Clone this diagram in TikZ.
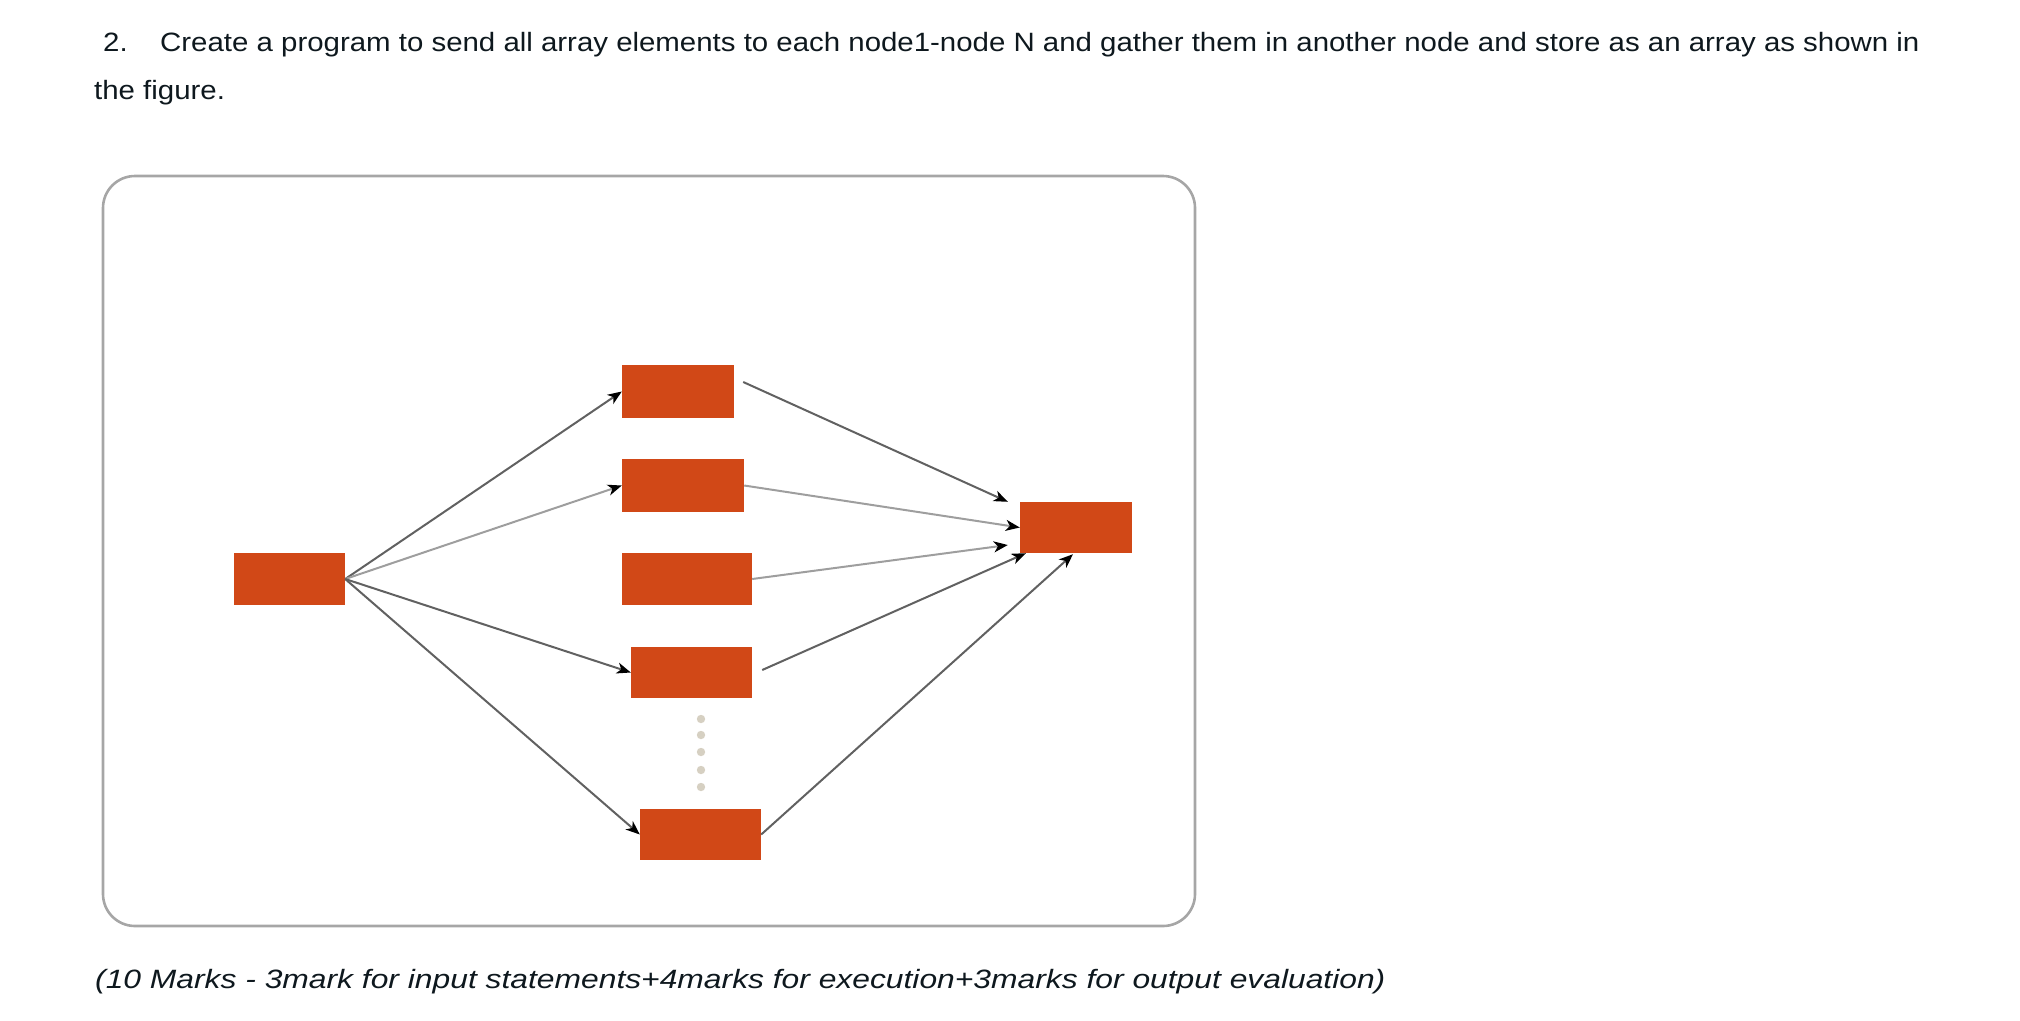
\documentclass[tikz,border=0pt]{standalone}
\usepackage{fontspec}
\setmainfont{Liberation Sans}
\newfontfamily\qfont[FakeStretch=1.11]{Liberation Sans}
\newfontfamily\marksfont[FakeStretch=1.20]{Liberation Sans}
\usetikzlibrary{arrows.meta}
\definecolor{boxorange}{RGB}{209,72,23}
\definecolor{qtext}{RGB}{14,24,30}
\definecolor{dotgrey}{RGB}{214,208,194}
\tikzset{
  BoxStyle/.style = { rectangle, fill = boxorange, draw = none,
                      inner sep = 0pt },
  TextStyle/.style = { inner sep = 0pt, anchor = base west, text = qtext,
                       font = \qfont\fontsize{26.5}{32}\selectfont },
  EdgeStyle/.style = { draw = black!62, line width = 2pt,
                       -{Stealth[length=14pt,width=11pt,inset=4pt,color=black]} },
  LightEdge/.style = { EdgeStyle, draw = black!38 } }

\begin{document}
\begin{tikzpicture}[x=1pt,y=-1pt]
  \useasboundingbox (0,0) rectangle (2020,1020);
  % question text
  \node[TextStyle](num) at (103,51.7) {2.};
  \node[TextStyle](q) at (160,51.7) {Create a program to send all array elements to each node1-node N and gather them in another node and store as an array as shown in};
  \node[TextStyle](q2) at (94,99) {the figure.};
  \node[TextStyle, font=\marksfont\fontsize{26.5}{32}\selectfont\itshape](marks) at (95,988)
    {(10 Marks - 3mark for input statements+4marks for execution+3marks for output evaluation)};
  % frame
  \draw[draw=black!35, line width=2.6pt, rounded corners=32pt] (103,176) rectangle (1195,926);
  % boxes
  \node[BoxStyle, minimum width=111pt, minimum height=52pt](src) at (289.5,579) {};
  \node[BoxStyle, minimum width=112pt, minimum height=53pt](n1) at (678,391.5) {};
  \node[BoxStyle, minimum width=122pt, minimum height=53pt](n2) at (683,485.5) {};
  \node[BoxStyle, minimum width=130pt, minimum height=52pt](n3) at (687,579) {};
  \node[BoxStyle, minimum width=121pt, minimum height=51pt](n4) at (691.5,672.5) {};
  \node[BoxStyle, minimum width=121pt, minimum height=51pt](nN) at (700.5,834.5) {};
  \node[BoxStyle, minimum width=112pt, minimum height=51pt](dst) at (1076,527.5) {};
  \foreach \y in {719,735,752,770,787}
    \fill[dotgrey] (701,\y) circle (4.2pt);
  % scatter
  \draw[EdgeStyle](src.east) -- (n1.west);
  \draw[LightEdge](src.east) -- (n2.west);
  \draw[EdgeStyle](src.east) -- (n4.west);
  \draw[EdgeStyle](src.east) -- (nN.west);
  % gather
  \draw[EdgeStyle]([shift={(9,-9.5)}]n1.east) -- ([shift={(-12,0)}]dst.north west);
  \draw[LightEdge](n2.east) -- (dst.west);
  \draw[LightEdge](n3.east) -- ([shift={(-12,17.5)}]dst.west);
  \draw[EdgeStyle]([shift={(10,-2.5)}]n4.east) -- ([shift={(6,0)}]dst.south west);
  \draw[EdgeStyle](nN.east) -- ([shift={(-3,1)}]dst.south);
\end{tikzpicture}
\end{document}
